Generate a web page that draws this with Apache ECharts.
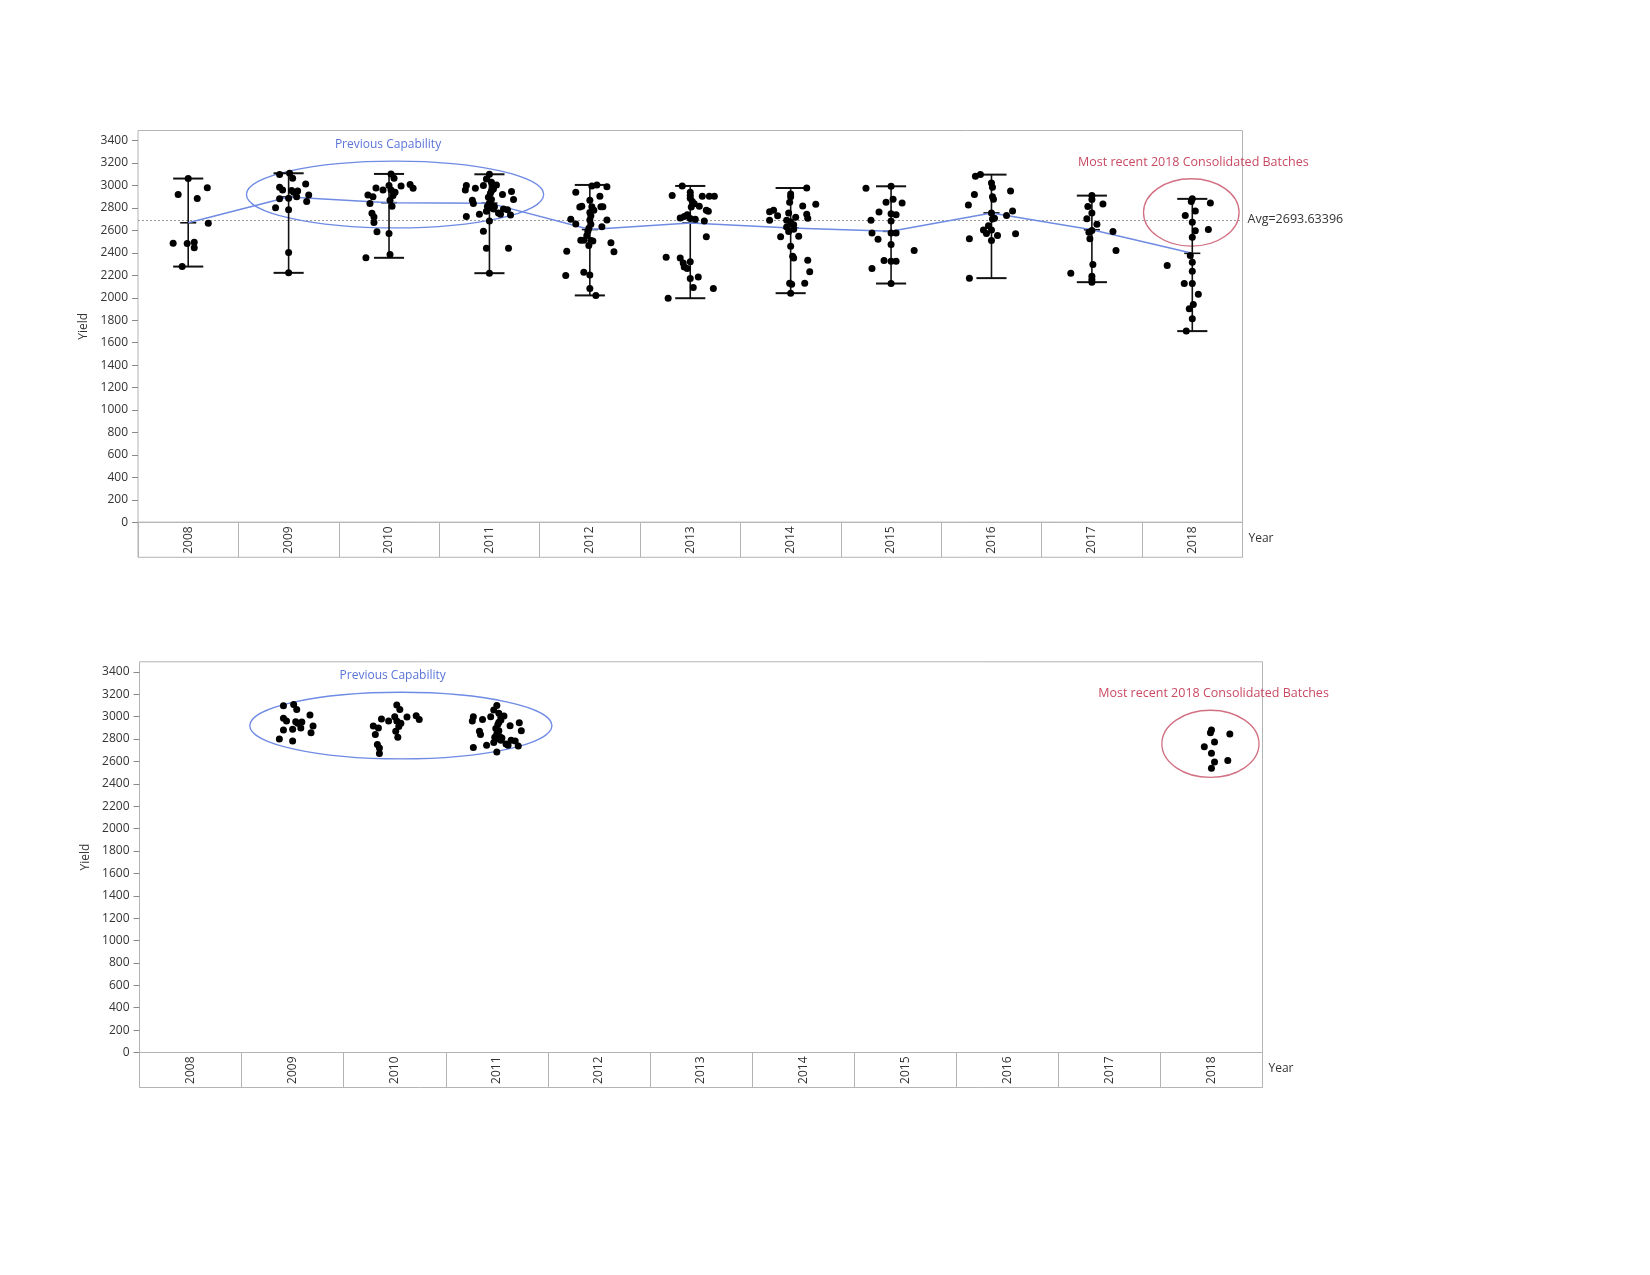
<!DOCTYPE html>
<html><head><meta charset="utf-8">
<script src="https://cdn.jsdelivr.net/npm/echarts@6/dist/echarts.min.js"></script>
<style>html,body{margin:0;padding:0;background:#fff}#c{width:1650px;height:1275px}</style>
</head><body><div id="c"></div>
<script>
// ---------------- DATA ----------------
const years = ['2008','2009','2010','2011','2012','2013','2014','2015','2016','2017','2018'];
const yieldTicks = [0,200,400,600,800,1000,1200,1400,1600,1800,2000,2200,2400,2600,2800,3000,3200,3400];
// each point: [jitter offset within the year column (category units), Yield]
const p2008 = [[-0.10,2919],[0.00,3062],[0.19,2981],[0.09,2884],[0.20,2664],[-0.15,2486],[-0.01,2483],[0.06,2495],[0.06,2445],[-0.06,2278]];
const p2009 = [[-0.09,3097],[0.01,3109],[0.04,3065],[-0.09,2985],[-0.06,2961],[0.03,2955],[0.17,3014],[0.09,2952],[0.20,2916],[-0.09,2881],[0.00,2887],[0.08,2899],[0.18,2857],[-0.13,2801],[0.00,2783],[0.05,2940],[0.00,2403],[0.00,2222]];
const p2010 = [[0.02,3103],[0.05,3065],[0.00,2999],[0.12,2996],[0.21,3008],[0.24,2975],[-0.13,2978],[-0.06,2961],[0.02,2961],[0.06,2940],[0.04,2911],[-0.21,2916],[-0.16,2899],[-0.19,2840],[0.01,2869],[0.03,2815],[-0.17,2752],[-0.15,2719],[-0.15,2671],[-0.12,2588],[0.00,2573],[0.01,2385],[-0.23,2356]];
const p2011 = [[0.00,3100],[-0.03,3059],[0.02,3030],[-0.23,2999],[-0.14,2975],[-0.24,2961],[-0.06,3000],[0.04,2995],[0.07,3005],[0.04,2970],[0.13,2919],[0.22,2946],[0.24,2875],[-0.17,2869],[-0.16,2840],[-0.01,2895],[0.02,2875],[0.00,2845],[-0.02,2815],[0.04,2790],[-0.03,2770],[0.14,2790],[-0.10,2745],[-0.23,2725],[0.09,2755],[0.11,2745],[0.18,2783],[0.21,2738],[0.01,2930],[0.03,2820],[-0.01,2800],[0.05,2810],[0.02,2950],[0.00,2684],[-0.06,2593],[-0.03,2442],[0.19,2442],[0.00,2219]];
const p2012 = [[0.07,3005],[0.02,2995],[0.17,2990],[-0.14,2940],[0.10,2904],[0.00,2869],[-0.10,2808],[-0.08,2815],[0.02,2810],[0.04,2780],[0.11,2810],[0.13,2810],[0.00,2760],[0.01,2730],[-0.19,2700],[-0.14,2657],[0.00,2693],[0.01,2655],[0.12,2632],[0.17,2693],[-0.01,2620],[-0.02,2593],[-0.03,2555],[-0.09,2513],[-0.06,2513],[0.01,2510],[0.03,2505],[-0.01,2466],[0.21,2490],[0.24,2410],[-0.23,2415],[-0.06,2228],[0.00,2202],[-0.24,2199],[0.00,2083],[0.06,2021]];
const p2013 = [[-0.08,2996],[-0.18,2911],[0.00,2940],[0.00,2911],[0.00,2887],[0.02,2857],[0.04,2837],[0.01,2808],[0.12,2904],[0.19,2904],[0.24,2904],[0.09,2816],[0.16,2780],[0.18,2770],[-0.10,2710],[-0.06,2725],[-0.03,2740],[0.05,2700],[0.00,2706],[0.14,2684],[0.16,2543],[-0.24,2361],[-0.10,2355],[-0.07,2310],[-0.06,2275],[-0.03,2260],[0.00,2320],[0.08,2186],[0.00,2172],[0.03,2092],[0.23,2083],[-0.22,1996]];
const p2014 = [[0.16,2978],[0.00,2925],[0.00,2900],[-0.01,2851],[-0.21,2767],[-0.17,2780],[-0.13,2730],[-0.21,2690],[0.05,2717],[0.12,2818],[0.25,2833],[0.16,2744],[0.17,2709],[-0.02,2755],[-0.04,2690],[0.00,2675],[0.03,2650],[-0.04,2630],[-0.02,2590],[0.03,2611],[-0.10,2543],[0.08,2548],[0.00,2459],[0.02,2370],[0.03,2355],[0.17,2335],[0.19,2231],[-0.01,2130],[0.01,2120],[0.14,2130],[0.00,2041]];
const p2015 = [[0.00,2993],[-0.25,2975],[-0.05,2851],[0.02,2877],[0.11,2845],[-0.12,2764],[0.00,2749],[0.05,2740],[-0.20,2690],[0.00,2684],[-0.19,2576],[-0.13,2522],[0.00,2576],[0.05,2576],[0.00,2474],[0.23,2421],[-0.07,2332],[0.00,2326],[0.05,2326],[-0.19,2260],[0.00,2127]];
const p2016 = [[-0.16,3082],[-0.11,3097],[0.00,3023],[0.01,2985],[-0.17,2919],[0.19,2952],[-0.23,2827],[0.01,2899],[0.02,2877],[0.21,2774],[0.15,2732],[0.00,2755],[0.01,2701],[0.03,2708],[-0.03,2642],[-0.08,2603],[-0.05,2573],[0.00,2603],[0.24,2570],[-0.22,2525],[0.06,2555],[0.00,2510],[-0.22,2175]];
const p2017 = [[0.00,2910],[0.00,2875],[0.11,2836],[-0.04,2812],[0.00,2755],[-0.05,2703],[0.05,2656],[0.00,2599],[-0.03,2584],[0.21,2590],[-0.02,2525],[0.24,2421],[0.01,2296],[-0.21,2219],[0.00,2192],[0.00,2163],[0.00,2139]];
const p2018 = [[0.00,2881],[-0.01,2857],[0.18,2845],[0.03,2774],[-0.07,2732],[0.00,2673],[0.03,2596],[0.16,2608],[0.00,2539],[-0.02,2376],[-0.25,2287],[0.00,2317],[0.00,2237],[-0.08,2127],[0.00,2127],[0.06,2032],[0.01,1940],[-0.03,1902],[0.00,1813],[-0.06,1703]];
const pointsByYear = [p2008,p2009,p2010,p2011,p2012,p2013,p2014,p2015,p2016,p2017,p2018];
const yearMeans = [2668, 2898, 2847, 2843, 2608, 2666, 2622, 2592, 2756, 2606, 2396];
const overallAvg = 2693.63396;
const capabilityYears = ['2009','2010','2011'];
const capabilityFloor = 2650;
const recentYears = ['2018'];
const recentFloor = 2500;

// ---------------- BUILD ----------------
const FONT = '"Open Sans", "Noto Sans", sans-serif';
const BORDER = '#b4b4b4';
const BLUE_LINE = '#6f8be3';
const BLUE_TEXT = '#5a74d8';
const RED_LINE = '#d27083';
const RED_TEXT = '#c94a63';

const allPoints = [];
pointsByYear.forEach((pts, i) => pts.forEach(([dx, v]) => allPoints.push([i + dx, v])));
const bottomPoints = [];
pointsByYear.forEach((pts, i) => {
  const y = years[i];
  pts.forEach(([dx, v]) => {
    if ((capabilityYears.includes(y) && v >= capabilityFloor) || (recentYears.includes(y) && v >= recentFloor)) {
      bottomPoints.push([i + dx, v]);
    }
  });
});
const rangeData = pointsByYear.map((pts, i) => {
  const vals = pts.map(p => p[1]);
  return [i, Math.min(...vals), Math.max(...vals), yearMeans[i]];
});
const meanLine = yearMeans.map((m, i) => [i, m]);

const grids = [
  {left: 138, top: 130.5, width: 1104.5, height: 391.8},
  {left: 138, top: 522.3, width: 1104.5, height: 35},
  {left: 139.5, top: 661.8, width: 1123, height: 390.7},
  {left: 139.5, top: 1052.5, width: 1123, height: 35}
].map(g => Object.assign({show: true, borderColor: BORDER, borderWidth: 1, backgroundColor: 'transparent', containLabel: false}, g));

function catAxis(gridIndex) {
  return {
    type: 'category', gridIndex, data: years, boundaryGap: true, position: 'bottom',
    axisLine: {show: false, onZero: false},
    axisTick: {show: true, interval: 0, length: 35, lineStyle: {color: BORDER, width: 1}},
    axisLabel: {show: true, interval: 0, rotate: 90, margin: 4, padding: [5, 0, 0, 0], color: '#333', fontSize: 12, fontFamily: FONT},
    name: 'Year', nameLocation: 'end', nameGap: 6,
    nameTextStyle: {color: '#333', fontSize: 12, fontFamily: FONT, verticalAlign: 'top', padding: [10, 0, 0, 0]},
    splitLine: {show: false}
  };
}
function valXAxis(gridIndex) {
  return {type: 'value', gridIndex, min: -0.5, max: 10.5, show: false, axisLine: {onZero: false}, splitLine: {show: false}};
}
function dummyX(gridIndex) { return {type: 'value', gridIndex, min: 0, max: 1, show: false}; }
function dummyY(gridIndex) { return {type: 'value', gridIndex, min: 0, max: 1, show: false}; }
function yieldAxis(gridIndex) {
  return {
    type: 'value', gridIndex, min: 0, max: 3490, interval: 200, position: 'left',
    axisLine: {show: false, onZero: false},
    axisTick: {show: true, length: 6, customValues: yieldTicks, lineStyle: {color: '#8a8a8a'}},
    axisLabel: {show: true, margin: 10, customValues: yieldTicks, formatter: v => String(v), color: '#333', fontSize: 12, fontFamily: FONT},
    splitLine: {show: false},
    name: 'Yield', nameLocation: 'middle', nameGap: 43,
    nameTextStyle: {color: '#333', fontSize: 12, fontFamily: FONT}
  };
}

function ellipseSeries(xAxisIndex, yAxisIndex, d, color) {
  return {
    type: 'custom', xAxisIndex, yAxisIndex, silent: true, z: 3,
    data: [d], encode: {x: 0, y: 1}, clip: false,
    renderItem(params, api) {
      const c = api.coord([api.value(0), api.value(1)]);
      const s = api.size([api.value(2), api.value(3)]);
      return {type: 'ellipse', shape: {cx: c[0], cy: c[1], rx: s[0], ry: s[1]},
        style: {fill: null, stroke: color, lineWidth: 1.3}};
    }
  };
}
function textSeries(xAxisIndex, yAxisIndex, d, text, color, size) {
  return {
    type: 'custom', xAxisIndex, yAxisIndex, silent: true, z: 6,
    data: [d], encode: {x: 0, y: 1}, clip: false,
    renderItem(params, api) {
      const c = api.coord([api.value(0), api.value(1)]);
      return {type: 'text', x: c[0], y: c[1],
        style: {text, fill: color, fontSize: size, fontFamily: FONT, align: 'center', verticalAlign: 'middle'}};
    }
  };
}

const series = [
  // top chart
  ellipseSeries(1, 0, [2.06, 2920, 1.48, 298], BLUE_LINE),
  ellipseSeries(1, 0, [9.99, 2760, 0.476, 300], RED_LINE),
  textSeries(1, 0, [1.99, 3367], 'Previous Capability', BLUE_TEXT, 12),
  textSeries(1, 0, [10.01, 3207], 'Most recent 2018 Consolidated Batches', RED_TEXT, 12.5),
  {
    type: 'custom', xAxisIndex: 1, yAxisIndex: 0, silent: true, z: 4,
    data: rangeData, encode: {x: 0, y: [1, 2]},
    renderItem(params, api) {
      const x = api.value(0);
      const lo = api.coord([x, api.value(1)]);
      const hi = api.coord([x, api.value(2)]);
      const mn = api.coord([x, api.value(3)]);
      const cap = api.size([0.15, 0])[0];
      const mt = api.size([0.08, 0])[0];
      const st = {stroke: '#111', lineWidth: 1.6};
      return {type: 'group', children: [
        {type: 'line', shape: {x1: lo[0], y1: lo[1], x2: hi[0], y2: hi[1]}, style: st},
        {type: 'line', shape: {x1: lo[0] - cap, y1: lo[1], x2: lo[0] + cap, y2: lo[1]}, style: {stroke: '#111', lineWidth: 2}},
        {type: 'line', shape: {x1: hi[0] - cap, y1: hi[1], x2: hi[0] + cap, y2: hi[1]}, style: {stroke: '#111', lineWidth: 2}},
        {type: 'line', shape: {x1: mn[0] - mt, y1: mn[1], x2: mn[0] + mt, y2: mn[1]}, style: st}
      ]};
    },
    markLine: {
      silent: true, symbol: 'none', z: 2,
      lineStyle: {type: [2, 2], color: '#9a9a9a', width: 1},
      label: {show: true, position: 'end', distance: 5, formatter: 'Avg=' + overallAvg, color: '#333', fontSize: 12.5, fontFamily: FONT},
      data: [{yAxis: overallAvg}]
    }
  },
  {
    type: 'line', xAxisIndex: 1, yAxisIndex: 0, data: meanLine, silent: true, z: 5,
    symbol: 'none', lineStyle: {color: BLUE_LINE, width: 1.5}
  },
  {
    type: 'scatter', xAxisIndex: 1, yAxisIndex: 0, data: allPoints, silent: true, z: 7,
    symbol: 'circle', symbolSize: 7, itemStyle: {color: '#000', opacity: 1}
  },
  // bottom chart
  ellipseSeries(4, 2, [2.06, 2920, 1.48, 298], BLUE_LINE),
  ellipseSeries(4, 2, [9.99, 2757, 0.476, 300], RED_LINE),
  textSeries(4, 2, [1.98, 3366], 'Previous Capability', BLUE_TEXT, 12),
  textSeries(4, 2, [10.02, 3206], 'Most recent 2018 Consolidated Batches', RED_TEXT, 12.5),
  {
    type: 'scatter', xAxisIndex: 4, yAxisIndex: 2, data: bottomPoints, silent: true, z: 7,
    symbol: 'circle', symbolSize: 7, itemStyle: {color: '#000', opacity: 1}
  }
];

const chart = echarts.init(document.getElementById('c'), null, {renderer: 'canvas'});
chart.setOption({
  animation: false,
  backgroundColor: '#fff',
  textStyle: {fontFamily: FONT},
  grid: grids,
  xAxis: [catAxis(0), valXAxis(0), dummyX(1), catAxis(2), valXAxis(2), dummyX(3)],
  yAxis: [yieldAxis(0), dummyY(1), yieldAxis(2), dummyY(3)],
  series
});
</script></body></html>
